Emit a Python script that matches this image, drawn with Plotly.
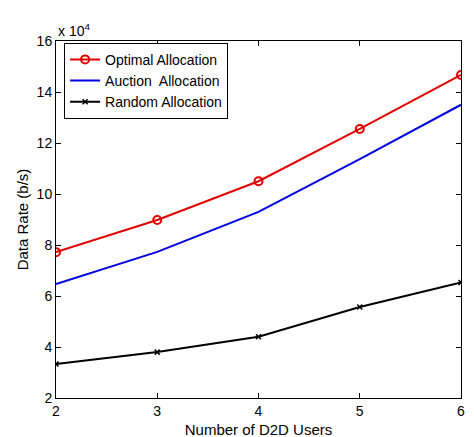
import plotly.graph_objects as go

users = [2, 3, 4, 5, 6]
optimal = [7.72, 8.98, 10.5, 12.55, 14.67]
auction = [6.47, 7.73, 9.3, 11.37, 13.5]
random_alloc = [3.33, 3.8, 4.4, 5.57, 6.53]

fig = go.Figure()
fig.add_trace(go.Scatter(x=users, y=optimal, name="Optimal Allocation", mode="lines+markers",
                         line=dict(color="#e00000", width=2),
                         marker=dict(symbol="circle-open", size=8, color="#e00000", line=dict(width=2))))
fig.add_trace(go.Scatter(x=users, y=auction, name="Auction  Allocation", mode="lines",
                         line=dict(color="#0000e0", width=2)))
fig.add_trace(go.Scatter(x=users, y=random_alloc, name="Random Allocation", mode="lines+markers",
                         line=dict(color="black", width=2),
                         marker=dict(symbol="x-thin-open", size=5, color="black", line=dict(width=1.5))))

axis = dict(showgrid=False, zeroline=False, showline=True, linecolor="black", mirror="ticks",
            ticks="inside", ticklen=5, tickcolor="black", tickfont=dict(size=14, color="black"),
            title_font=dict(size=15, color="black"), automargin=False)
fig.update_xaxes(axis, range=[2, 6], dtick=1, title_text="Number of D2D Users", title_standoff=6)
fig.update_yaxes(axis, range=[2, 16], dtick=2, title_text="Data Rate (b/s)", title_standoff=4)

fig.add_annotation(text="x 10<sup>4</sup>", xref="paper", yref="paper", x=0, y=1.0,
                   xanchor="left", yanchor="bottom", showarrow=False, font=dict(size=14, color="black"))

fig.update_layout(
    width=474, height=437, plot_bgcolor="white", paper_bgcolor="white",
    font=dict(family="Arial, Liberation Sans", color="black"),
    margin=dict(l=48, r=21, t=33, b=47),
    legend=dict(x=0.02, y=0.995, xanchor="left", yanchor="top", bgcolor="white",
                bordercolor="black", borderwidth=1, font=dict(size=14), tracegroupgap=0),
    showlegend=True,
)

fig.write_html("out.html")
